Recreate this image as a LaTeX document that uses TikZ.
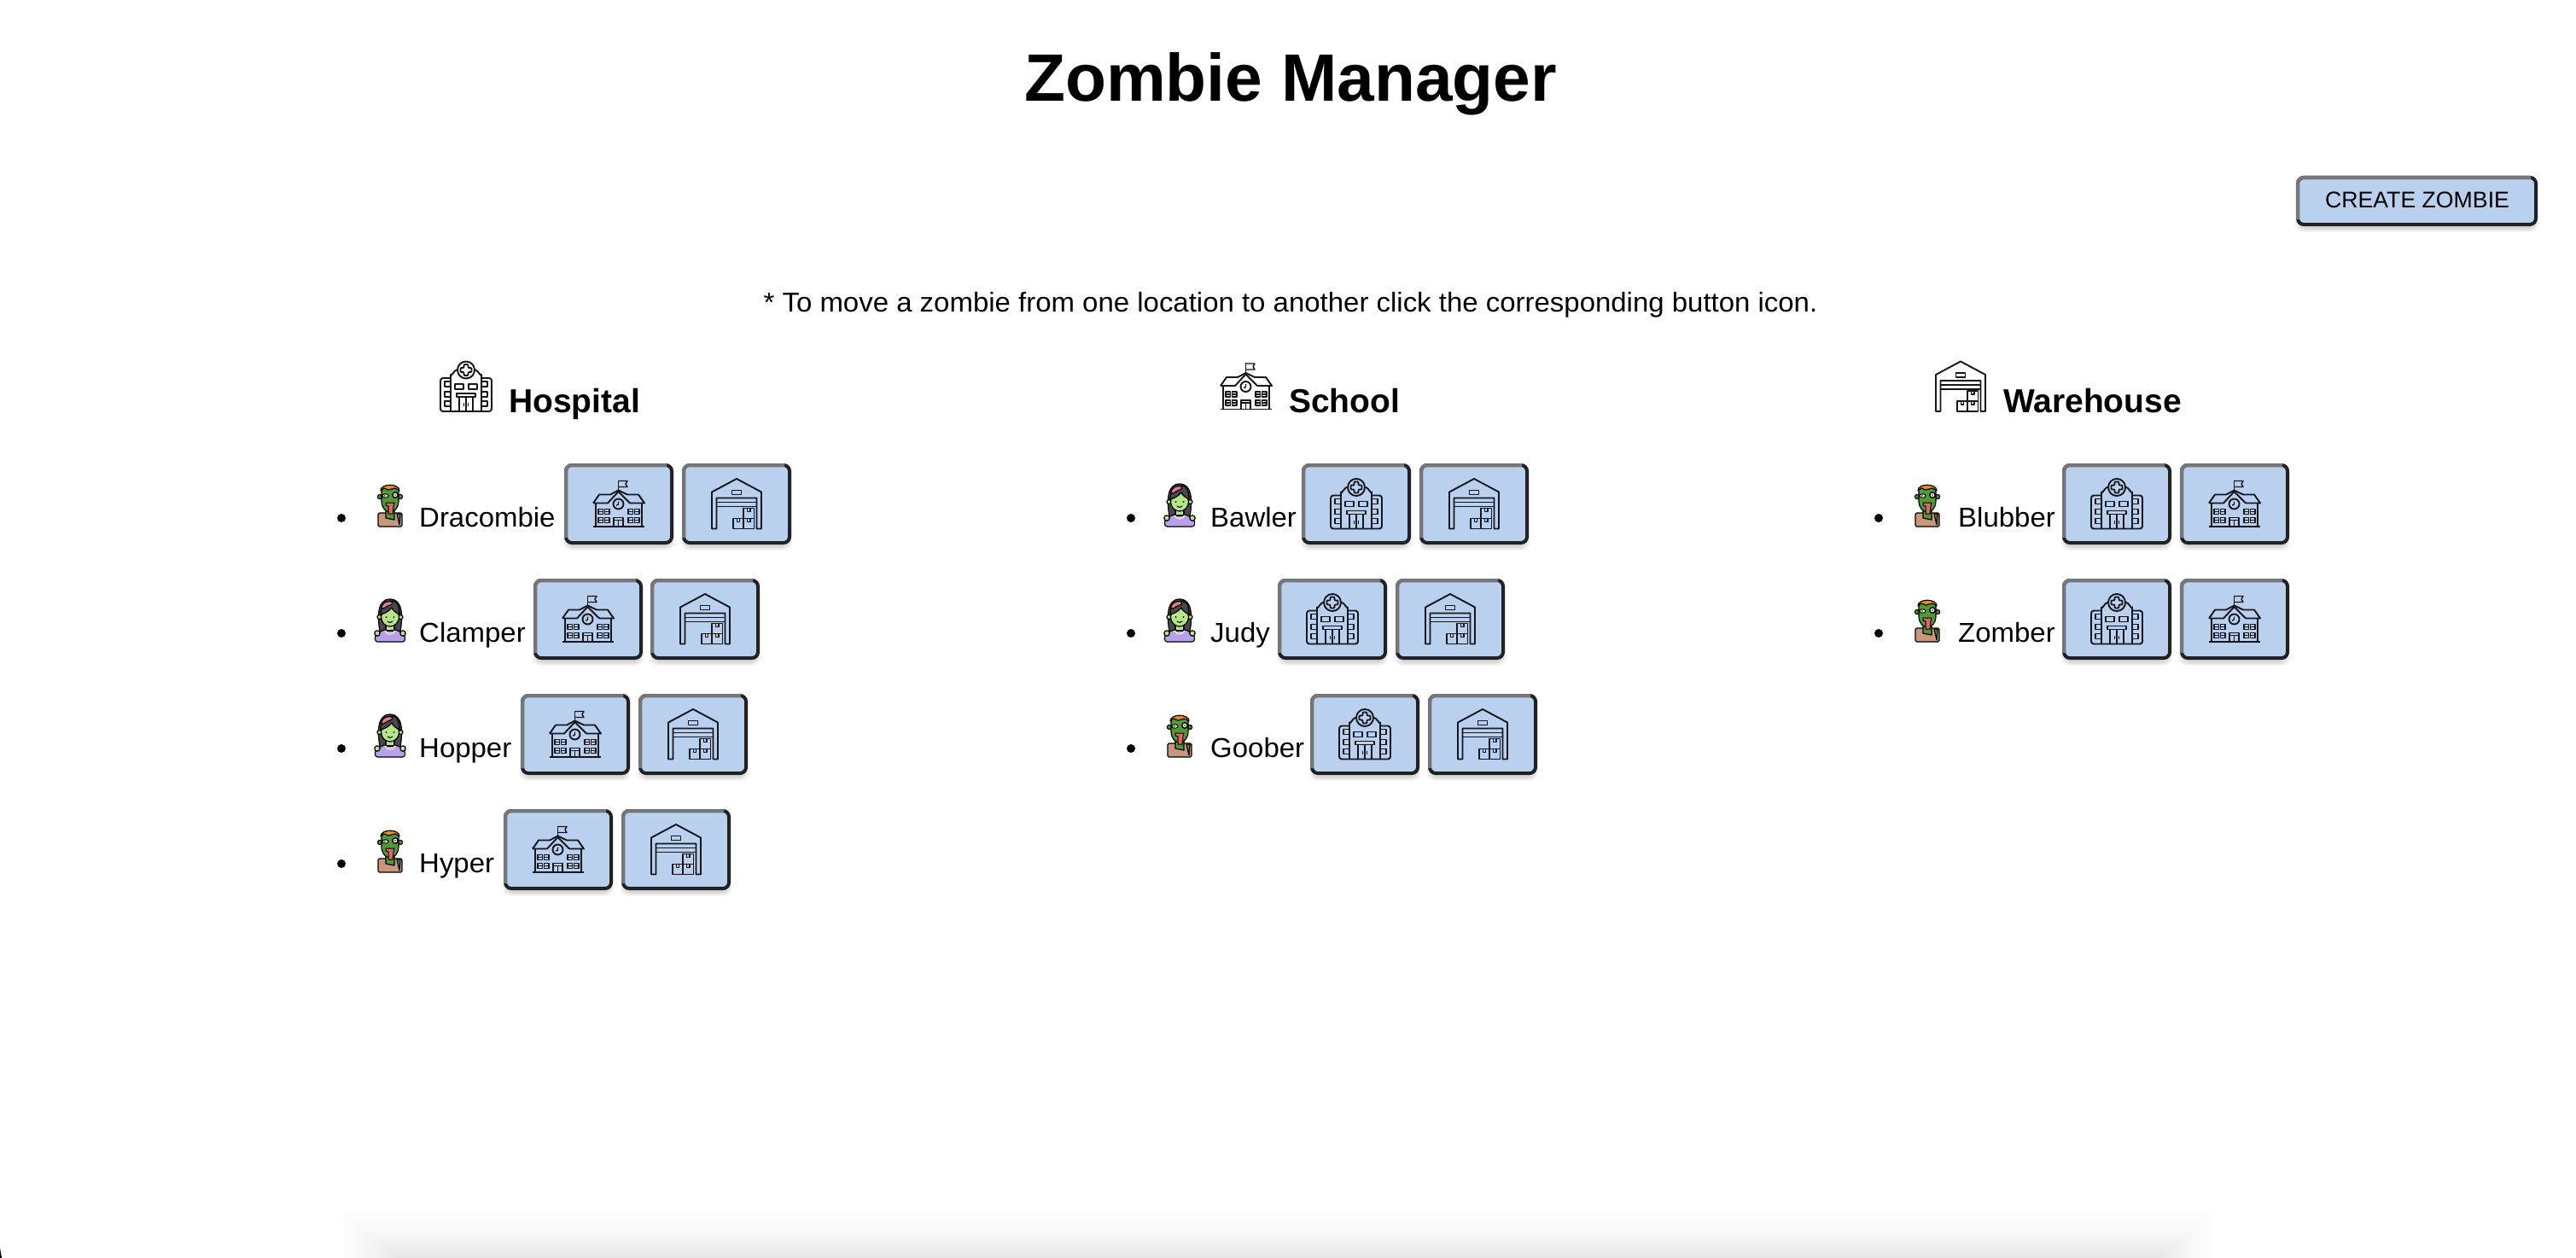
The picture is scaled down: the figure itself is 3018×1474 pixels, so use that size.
\documentclass[tikz,border=0pt]{standalone}
\usepackage{fontspec}
\setmainfont{Liberation Sans}
\newfontfamily\arialfont{Liberation Sans}
\newfontfamily\bodyfont[FakeStretch=1.03]{Liberation Sans}
\definecolor{btnblue}{HTML}{BAD0EF}
\definecolor{btndark}{HTML}{212121}
\definecolor{btngrey}{HTML}{767676}
\definecolor{iconink}{HTML}{14161C}
\definecolor{skinmale}{HTML}{4F9A33}
\definecolor{skinfemale}{HTML}{B5E585}
\definecolor{hairfemale}{HTML}{4B4650}
\definecolor{brainpink}{HTML}{E67C8A}
\definecolor{shirtmale}{HTML}{C9977E}
\definecolor{shirtfemale}{HTML}{B8A0EA}
\definecolor{hairmale}{HTML}{EF8B1E}
\definecolor{tonguered}{HTML}{E4626C}
\tikzset{
    iconline/.style={draw=iconink, line width=1.9pt, line join=round},
    iconthin/.style={draw=iconink, line width=1.4pt, line join=round},
    zline/.style={draw=black, line width=1.2pt, line join=round},
    btnbase/.style={draw=btndark, fill=btnblue, line width=4pt, rounded corners=7pt, inner sep=0pt, outer sep=0pt},
    btnedge/.style={draw=btngrey, line width=4pt, rounded corners=7pt},
    titletext/.style={inner sep=0pt, font=\fontsize{78.5}{90}\selectfont\bfseries},
    headtext/.style={inner sep=0pt, anchor=base west, font=\fontsize{39}{46}\selectfont\bfseries},
    bodytext/.style={inner sep=0pt, anchor=base west, font=\bodyfont\fontsize{32}{38}\selectfont},
    dotmark/.style={circle, fill=black, inner sep=0pt, minimum size=10pt},
    hospitalicon/.pic={
        \begin{scope}[shift={(-30,-30)}]
            \draw[iconline] (12,59) -- (12,16) to[out=-90,in=180] (20,10);
            \draw[iconline] (48,59) -- (48,16) to[out=-90,in=0] (40,10);
            \draw[iconline, rounded corners=3pt] (12,20) -- (0,20) -- (0,59) -- (60,59) -- (60,20) -- (48,20);
            \draw[iconline] (30,10.5) circle (10);
            \draw[iconline, rounded corners=1pt] (27.5,4) -- (32.5,4) -- (32.5,8) -- (36.5,8) -- (36.5,13) -- (32.5,13) -- (32.5,17) -- (27.5,17) -- (27.5,13) -- (23.5,13) -- (23.5,8) -- (27.5,8) -- cycle;
            \foreach \wy in {24,36,47} {
                \draw[iconthin] (5,\wy) rectangle (12,\wy+6);
                \draw[iconthin] (48,\wy) rectangle (55,\wy+6);
            }
            \draw[iconthin] (17,27) rectangle (27,33);
            \draw[iconthin] (33,27) rectangle (43,33);
            \draw[iconthin] (19,38) rectangle (41,42);
            \draw[iconthin] (22,42) -- (22,59);
            \draw[iconthin] (38,42) -- (38,59);
            \draw[iconthin] (30,42) -- (30,59);
            \fill[iconink] (27,49) rectangle (28,53);
            \fill[iconink] (32,49) rectangle (33,53);
        \end{scope}
    },
    schoolicon/.pic={
        \begin{scope}[shift={(-30,-30)}]
            \draw[iconthin] (29.5,15) -- (29.5,2);
            \draw[iconthin] (29.5,3) -- (40,3) -- (38,6.5) -- (40,10) -- (29.5,10);
            \draw[iconline] (3,29) -- (3,56);
            \draw[iconline] (57,29) -- (57,56);
            \draw[iconline] (0,56.5) -- (60,56.5);
            \draw[iconline] (0,29) -- (7,19) -- (20,19) -- (29.5,14) -- (40,19) -- (53,19) -- (60,29) -- (43,29);
            \draw[iconline] (0,29) -- (17,29) -- (29.5,15.5) -- (43,29);
            \draw[iconline] (29.5,30) circle (6);
            \draw[iconthin] (29.5,27) -- (29.5,30.5) -- (27,31.5);
            \foreach \wx in {6,13.5,41,48.5} {
                \foreach \wy in {36,46} {
                    \draw[iconthin] (\wx,\wy) rectangle (\wx+5.5,\wy+6);
                    \draw[iconthin] (\wx,\wy+3) -- (\wx+5.5,\wy+3);
                }
            }
            \draw[iconthin] (24,56) -- (24,46) -- (35,46) -- (35,56);
            \draw[iconthin] (29.5,49) -- (29.5,56);
            \draw[iconthin] (24,49) -- (35,49);
        \end{scope}
    },
    warehouseicon/.pic={
        \begin{scope}[shift={(-30,-30)}]
            \draw[iconline] (1,59) -- (1,16) -- (30,0.5) -- (59,16) -- (59,59) -- (53.5,59) -- (53.5,23) -- (6.5,23) -- (6.5,59) -- cycle;
            \draw[iconline] (6.5,28) -- (53.5,28);
            \draw[iconline] (6.5,33) -- (53.5,33);
            \draw[iconthin] (24.5,14) rectangle (35.5,19);
            \draw[iconline] (26,47) rectangle (50.5,59);
            \draw[iconline] (38.2,35) rectangle (50.5,47);
            \draw[iconline] (38.2,47) -- (38.2,59);
            \draw[iconthin] (30.5,47) -- (30.5,51) -- (33.7,51) -- (33.7,47);
            \draw[iconthin] (42.7,47) -- (42.7,51) -- (46,51) -- (46,47);
            \draw[iconthin] (42.7,35) -- (42.7,39) -- (46,39) -- (46,35);
        \end{scope}
    },
    zombieman/.pic={
        \filldraw[zline, fill=shirtmale, rounded corners=1.5pt] (-14,34) rectangle (14,50);
        \filldraw[zline, fill=skinmale] (-5,26) -- (-5,40) -- (5,42) -- (5,26) -- cycle;
        \filldraw[zline, fill=skinmale] (8,35) -- (12,35) -- (11,48) -- cycle;
        \filldraw[zline, fill=skinmale] (-12,15) circle (2.6);
        \filldraw[zline, fill=skinmale] (12,15) circle (2.6);
        \filldraw[zline, fill=skinmale] (-10,5) -- (-10,20) .. controls (-10,28) and (-5,33) .. (0,33) .. controls (5,33) and (10,28) .. (10,20) -- (10,5) -- cycle;
        \filldraw[zline, fill=hairmale] (-11,8) .. controls (-11,-1) and (11,-1) .. (11,8) -- (6,5) -- (-2,7) -- (-7,5) -- cycle;
        \filldraw[draw=black, line width=1pt, fill=white] (-5.5,14) ellipse (3.5 and 2.2);
        \filldraw[draw=black, line width=1.4pt, fill=white] (6,13) circle (3.2);
        \fill[black] (6,13) circle (0.9);
        \fill[black] (-6,14) circle (0.8);
        \filldraw[draw=black, line width=1pt, fill=tonguered] (-5,22) -- (5,22) -- (4,26) -- (3,35) -- (-2,35) -- (-2,26) -- (-5,25) -- cycle;
    },
    zombiewoman/.pic={
        \filldraw[zline, fill=hairfemale] (-12,38) .. controls (-15,20) and (-15,0) .. (0,0) .. controls (15,0) and (15,20) .. (12,38) -- cycle;
        \filldraw[zline, fill=shirtfemale, rounded corners=3pt] (-17.5,50) -- (-17.5,42) -- (-8,36) -- (8,36) -- (17.5,42) -- (17.5,50) -- cycle;
        \filldraw[zline, fill=skinfemale] (-15,40) circle (3.2);
        \filldraw[zline, fill=skinfemale] (15,40) circle (3.2);
        \filldraw[zline, fill=skinfemale] (-5,29) -- (-5,37) -- (5,37) -- (5,29) -- cycle;
        \draw[draw=white!85!black, line width=2pt] (-6,37) .. controls (-4,42) and (4,42) .. (6,37);
        \filldraw[zline, fill=skinfemale] (-12.5,21) circle (2.5);
        \filldraw[zline, fill=skinfemale] (12.5,21) circle (2.5);
        \filldraw[zline, fill=skinfemale] (0,21) ellipse (10.5 and 11);
        \filldraw[zline, fill=hairfemale] (-11,18) .. controls (-11,6) and (-4,2) .. (3,2) .. controls (9,2) and (11,10) .. (11,18) .. controls (7,16) and (3,13) .. (2,10) .. controls (-2,15) and (-7,17) .. (-11,18) -- cycle;
        \filldraw[zline, fill=brainpink, rounded corners=1.5pt] (-11,11) -- (-8,5) -- (-3,2.5) -- (3,3) -- (3,6) -- (-3,8) -- (-7,11) -- cycle;
        \fill[black] (-4.5,21) circle (1);
        \fill[black] (4.5,21) circle (1);
        \draw[black, line width=1pt, line cap=round] (-3,26) .. controls (-1,28) and (1,28) .. (3,26);
    },
}
% x y in pixels of the page, top down
\newcommand{\btnshell}[5]{
    \foreach \g in {0,...,4} {
        \fill[black, opacity=.03, rounded corners=9pt] ({#2+3-\g},{#3+3-\g}) rectangle ({#2+#4-3+\g},{#3+#5+3+\g});
    }
    \node[btnbase, anchor=north west, minimum width=#4-4, minimum height=#5-4] (#1) at ({#2+2},{#3+2}) {};
    \draw[btnedge] ([yshift=6pt]#1.south west) -- (#1.north west) -- ([xshift=-6pt]#1.north east);
}
\newcommand{\movebtn}[4]{
    \btnshell{#1}{#2}{#3}{128}{95}
    \pic at (#1.center) {#4};
}
\begin{document}
\begin{tikzpicture}[x=1pt, y=-1pt]
    \path[use as bounding box, fill=white] (0,0) rectangle (3018,1474);
    % blurred panel edge at the foot of the page
    \foreach \i in {1,...,24} {
        \fill[black, opacity=.0043] ({375+90*sqrt(\i/24)},{1405+69*sqrt(\i/24)-2}) rectangle ({2620-90*sqrt(\i/24)},1474);
    }
    \fill[black] (0,1462) -- (2,1474) -- (0,1474) -- cycle;

    \node[titletext, anchor=base] (title) at (1512,119) {Zombie Manager};
    \btnshell{createbtn}{2690}{206}{283}{59}
    \node[inner sep=0pt, anchor=base, font=\arialfont\fontsize{26.67}{32}\selectfont] (createlabel) at (2832,243) {CREATE ZOMBIE};
    \node[bodytext, anchor=base] (hint) at (1512,365) {* To move a zombie from one location to another click the corresponding button icon.};

    % hospital column
    \pic at (546,453) {hospitalicon};
    \node[headtext] (hospital) at (596,483) {Hospital};
    \node[dotmark] (h1dot) at (400,607) {};
    \pic at (457,567) {zombieman};
    \node[bodytext] (h1) at (491,617) {Dracombie};
    \movebtn{h1s}{661}{543}{schoolicon}
    \movebtn{h1w}{799}{543}{warehouseicon}
    \node[dotmark] (h2dot) at (400,742) {};
    \pic at (457,702) {zombiewoman};
    \node[bodytext] (h2) at (491,752) {Clamper};
    \movebtn{h2s}{625}{678}{schoolicon}
    \movebtn{h2w}{762}{678}{warehouseicon}
    \node[dotmark] (h3dot) at (400,877) {};
    \pic at (457,837) {zombiewoman};
    \node[bodytext] (h3) at (491,887) {Hopper};
    \movebtn{h3s}{610}{813}{schoolicon}
    \movebtn{h3w}{748}{813}{warehouseicon}
    \node[dotmark] (h4dot) at (400,1012) {};
    \pic at (457,972) {zombieman};
    \node[bodytext] (h4) at (491,1022) {Hyper};
    \movebtn{h4s}{590}{948}{schoolicon}
    \movebtn{h4w}{728}{948}{warehouseicon}

    % school column
    \pic at (1460,453) {schoolicon};
    \node[headtext] (school) at (1510,483) {School};
    \node[dotmark] (s1dot) at (1325,607) {};
    \pic at (1382,567) {zombiewoman};
    \node[bodytext] (s1) at (1418,617) {Bawler};
    \movebtn{s1h}{1525}{543}{hospitalicon}
    \movebtn{s1w}{1663}{543}{warehouseicon}
    \node[dotmark] (s2dot) at (1325,742) {};
    \pic at (1382,702) {zombiewoman};
    \node[bodytext] (s2) at (1418,752) {Judy};
    \movebtn{s2h}{1497}{678}{hospitalicon}
    \movebtn{s2w}{1635}{678}{warehouseicon}
    \node[dotmark] (s3dot) at (1325,877) {};
    \pic at (1382,837) {zombieman};
    \node[bodytext] (s3) at (1418,887) {Goober};
    \movebtn{s3h}{1535}{813}{hospitalicon}
    \movebtn{s3w}{1673}{813}{warehouseicon}

    % warehouse column
    \pic at (2297,453) {warehouseicon};
    \node[headtext] (warehouse) at (2347,483) {Warehouse};
    \node[dotmark] (w1dot) at (2201,607) {};
    \pic at (2258,567) {zombieman};
    \node[bodytext] (w1) at (2294,617) {Blubber};
    \movebtn{w1h}{2416}{543}{hospitalicon}
    \movebtn{w1s}{2554}{543}{schoolicon}
    \node[dotmark] (w2dot) at (2201,742) {};
    \pic at (2258,702) {zombieman};
    \node[bodytext] (w2) at (2294,752) {Zomber};
    \movebtn{w2h}{2416}{678}{hospitalicon}
    \movebtn{w2s}{2554}{678}{schoolicon}
\end{tikzpicture}
\end{document}
